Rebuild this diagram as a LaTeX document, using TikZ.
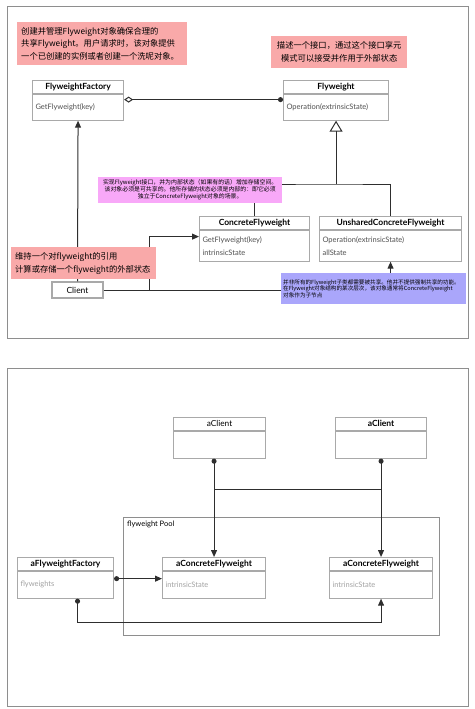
\documentclass[tikz,border=0pt]{standalone}
\usepackage{fontspec}
\setmainfont{Lato}
\newfontfamily\cjk{Noto Sans CJK SC}
\usepackage{tikz}
\usetikzlibrary{
	arrows.meta,
	positioning,
	calc
}
\usepackage{xcolor}

\definecolor{boxgray}{HTML}{A9A9A9}
\definecolor{linedark}{HTML}{2E2E2E}
\definecolor{framegray}{HTML}{8E8E8E}
\definecolor{notepink}{HTML}{F9A9A9}
\definecolor{notemagenta}{HTML}{F8A8F8}
\definecolor{noteviolet}{HTML}{AAA6FB}
\definecolor{optext}{HTML}{505050}
\definecolor{fieldtext}{HTML}{A2A2A2}

\tikzset{
	clstitle/.style={draw=boxgray,line width=1.1pt,fill=white,inner sep=0pt,minimum height=12.5,anchor=north west,font=\fontsize{8.5}{10}\selectfont\bfseries},
	clsbody/.style={draw=boxgray,line width=1.1pt,fill=white,inner xsep=3pt,inner ysep=2pt,anchor=north,align=left,text=optext,font=\fontsize{7.5}{13}\selectfont},
	panel/.style={draw=framegray,line width=0.9pt},
	conn/.style={draw=linedark,line width=1pt},
	note/.style={inner xsep=4pt,inner ysep=2pt,anchor=north west,font=\cjk\fontsize{8.3}{12.8}\selectfont},
	smallnote/.style={inner xsep=2pt,inner ysep=1pt,anchor=north west,font=\cjk\fontsize{5.9}{7}\selectfont}
}

\begin{document}
\begin{tikzpicture}[x=1pt,y=-1pt,>={Triangle[length=7pt,width=6pt]}]
			
			\useasboundingbox (0,0) rectangle (474,709);
			
			% upper panel: class structure
			\draw[panel] (7,6) rectangle (468,338);
			
			\node[clstitle,minimum width=91] (factory) at (32,80) {FlyweightFactory};
			\node[clsbody,text width=85,minimum height=26] (factoryb) at (factory.south) {GetFlyweight(key)};
			
			\node[clstitle,minimum width=105] (flyweight) at (283,80) {Flyweight};
			\node[clsbody,text width=99,minimum height=26] (flyweightb) at (flyweight.south) {Operation(extrinsicState)};
			
			\node[clstitle,minimum width=110] (concrete) at (199,216) {ConcreteFlyweight};
			\node[clsbody,text width=104,minimum height=31] (concreteb) at (concrete.south) {GetFlyweight(key)\\intrinsicState};
			
			\node[clstitle,minimum width=142] (unshared) at (319,216) {UnsharedConcreteFlyweight};
			\node[clsbody,text width=136,minimum height=31] (unsharedb) at (unshared.south) {Operation(extrinsicState)\\allState};
			
			\node[draw=boxgray,line width=1.1pt,fill=white,minimum width=51,minimum height=16,inner sep=0pt,font=\fontsize{8.5}{10}\selectfont] (client) at (77.5,290) {Client};
			
			\coordinate (fork) at (flyweight.south |- 0,184);
			\coordinate (split) at ([xshift=46]client.east);
			
			\draw[conn,{Diamond[open,length=9pt,width=6pt]}-{Circle[length=5pt]}] ([yshift=-6]factoryb.north east)--([yshift=-6]flyweightb.north west);
			\draw[conn,-{Triangle[open,length=11pt,width=13pt]}] (fork)--(flyweightb.south);
			\draw[conn] (concrete.north) |- (fork) -| (unshared.north);
			\draw[conn,->] (client.north)--(factoryb.south);
			\draw[conn,->] (client.east) -| (unsharedb.south);
			\draw[conn,->] (split) |- ([yshift=-7]concreteb.north west);
			
			\node[note,fill=notepink,minimum width=170,minimum height=43,text width=162,align=left] (factorynote) at (17,22)
			{创建并管理Flyweight对象确保合理的\\共享Flyweight。用户请求时，该对象提供\\一个已创建的实例或者创建一个洗呢对象。};
			
			\node[note,fill=notepink,minimum width=136,minimum height=32,text width=128,align=center] (flyweightnote) at (271,36)
			{描述一个接口，通过这个接口享元\\模式可以接受并作用于外部状态};
			
			\node[smallnote,fill=notemagenta,minimum width=184,minimum height=26,text width=180,align=center] (concretenote) at (98,177)
			{实现Flyweight接口，并为内部状态（如果有的话）增加存储空间。\\该对象必须是可共享的。他所存储的状态必须是内部的：即它必须\\独立于ConcreteFlyweight对象的场景。};
			
			\node[note,fill=notepink,minimum width=145,minimum height=32,text width=137,align=left] (clientnote) at (11,247)
			{维持一个对flyweight的引用\\计算或存储一个flyweight的外部状态};
			
			\node[smallnote,fill=noteviolet,minimum width=185,minimum height=31,text width=181,align=left,font=\cjk\fontsize{5.6}{6.8}\selectfont] (unsharednote) at (281,273)
			{并非所有的Flyweight子类都需要被共享。他并不提供强制共享的功能。\\在Flyweight对象结构的某次层次，该对象通常将ConcreteFlyweight\\对象作为子节点};
			
			% lower panel: objects at run time
			\draw[panel] (7,368) rectangle (468,706);
			
			\node[draw=framegray,line width=0.9pt,minimum width=316,minimum height=118,inner sep=0pt,anchor=north west] (pool) at (123,517) {};
			\node[anchor=north west,inner sep=4pt,font=\fontsize{7.5}{9}\selectfont] (poollabel) at (pool.north west) {flyweight Pool};
			
			\node[clstitle,minimum width=92,font=\fontsize{8.3}{10}\selectfont] (clienta) at (173,417) {aClient};
			\node[clsbody,text width=86,minimum height=27] (clientab) at (clienta.south) {};
			\node[clstitle,minimum width=91] (clientb) at (335,417) {aClient};
			\node[clsbody,text width=85,minimum height=27] (clientbb) at (clientb.south) {};
			
			\node[clstitle,minimum width=96] (afactory) at (17,557) {aFlyweightFactory};
			\node[clsbody,text width=90,minimum height=27,text=fieldtext] (afactoryb) at (afactory.south) {flyweights};
			
			\node[clstitle,minimum width=103] (aconcretea) at (162,557) {aConcreteFlyweight};
			\node[clsbody,text width=97,minimum height=27,text=fieldtext] (aconcreteab) at (aconcretea.south) {intrinsicState};
			\node[clstitle,minimum width=103] (aconcreteb) at (329,557) {aConcreteFlyweight};
			\node[clsbody,text width=97,minimum height=27,text=fieldtext] (aconcretebb) at (aconcreteb.south) {intrinsicState};
			
			\draw[conn,{Circle[length=5pt]}->] (aconcretea.north |- clientab.south)--(aconcretea.north);
			\draw[conn,{Circle[length=5pt]}->] (clientbb.south)--(aconcreteb.north);
			\draw[conn] (aconcreteb.north |- 0,489)--(aconcretea.north |- 0,489);
			\draw[conn,{Circle[length=5pt]}->] ([yshift=6]afactoryb.east)--([yshift=6]aconcreteab.west);
			\draw[conn,{Circle[length=5pt]}->] ([xshift=12]afactoryb.south)--++(0,24) -| (aconcretebb.south);
			
		\end{tikzpicture}
\end{document}
